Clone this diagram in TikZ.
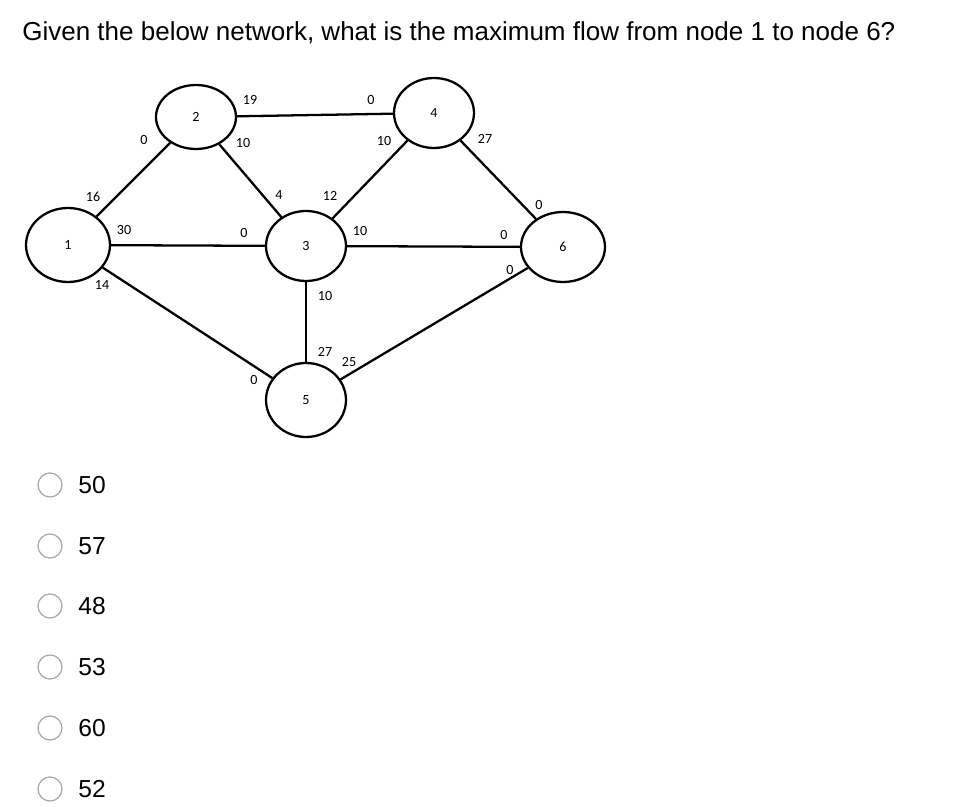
\documentclass[tikz,border=0pt]{standalone}
\usepackage{fontspec}
\setmainfont{Liberation Sans}
\newfontfamily\lab{Carlito}
\usetikzlibrary{shapes.geometric}
\begin{document}
\begin{tikzpicture}[x=0.02cm,y=-0.02cm,
  nd/.style={draw,ellipse,line width=1.3pt,inner sep=0pt,font=\lab\fontsize{8}{9}\selectfont},
  ed/.style={line width=1.3pt},
  lb/.style={font=\lab\fontsize{8}{9}\selectfont,inner sep=0pt},
  opt/.style={draw=gray!70,line width=0.7pt,circle,minimum size=0.48cm,inner sep=0pt},
  ot/.style={anchor=west,font=\fontsize{14}{17}\selectfont,inner sep=0pt}]
\useasboundingbox (0,0) rectangle (957,807);
\node[anchor=west,inner sep=0pt,font=\fontsize{14.8}{18}\selectfont] (title) at (22,33) {Given the below network, what is the maximum flow from node 1 to node 6?};
\node[nd,minimum width=1.68cm,minimum height=1.48cm] (n1) at (68,245) {1};
\node[nd,minimum width=1.6cm,minimum height=1.28cm] (n2) at (196,117) {2};
\node[nd,minimum width=1.6cm,minimum height=1.4cm] (n4) at (434,113) {4};
\node[nd,minimum width=1.6cm,minimum height=1.4cm] (n3) at (306,246) {3};
\node[nd,minimum width=1.68cm,minimum height=1.4cm] (n6) at (563,247) {6};
\node[nd,minimum width=1.6cm,minimum height=1.48cm] (n5) at (306,400) {5};
\draw[ed] (n1)--(n2); \draw[ed] (n1)--(n3); \draw[ed] (n1)--(n5);
\draw[ed] (n2)--(n4); \draw[ed] (n2)--(n3); \draw[ed] (n3)--(n4);
\draw[ed] (n3)--(n6); \draw[ed] (n3)--(n5); \draw[ed] (n4)--(n6); \draw[ed] (n5)--(n6);
\node[lb] (l1) at (93,197) {16};
\node[lb] (l2) at (124,230) {30};
\node[lb] (l3) at (102,285) {14};
\node[lb] (l4) at (144,140) {0};
\node[lb] (l5) at (250,100) {19};
\node[lb] (l6) at (243,143) {10};
\node[lb] (l7) at (371,100) {0};
\node[lb] (l8) at (384,141) {10};
\node[lb] (l9) at (485,139) {27};
\node[lb] (l10) at (279,195) {4};
\node[lb] (l11) at (330,196) {12};
\node[lb] (l12) at (244,233) {0};
\node[lb] (l13) at (360,231) {10};
\node[lb] (l14) at (539,205) {0};
\node[lb] (l15) at (504,235) {0};
\node[lb] (l16) at (510,270) {0};
\node[lb] (l17) at (325,296) {10};
\node[lb] (l18) at (325,352) {27};
\node[lb] (l19) at (349,362) {25};
\node[lb] (l20) at (254,380) {0};
\foreach \v/\y [count=\i] in {50/485,57/546,48/606,53/667,60/728,52/789}{
  \node[opt] (c\i) at (50,\y) {};
  \node[ot] (o\i) at (78,\y) {\v};
}
\end{tikzpicture}
\end{document}
